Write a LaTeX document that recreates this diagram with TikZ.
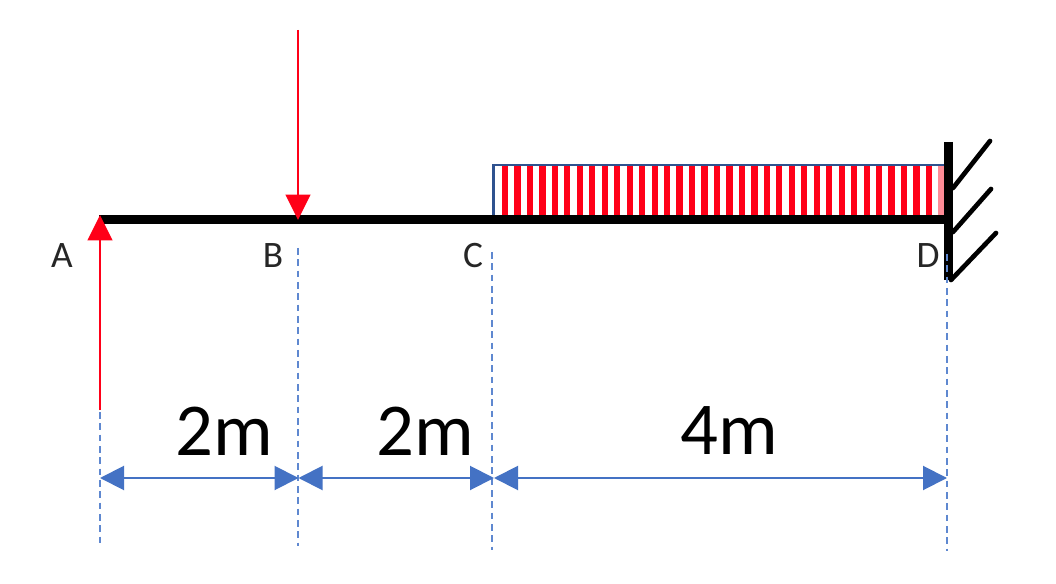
\documentclass[tikz,border=0pt]{standalone}
\usepackage{fontspec}
\setmainfont{Carlito}
\usetikzlibrary{arrows.meta}
\definecolor{dimblue}{HTML}{4472C4}
\definecolor{boxblue}{HTML}{2F528F}
\definecolor{loadred}{HTML}{FF0018}
\definecolor{guideblue}{HTML}{5F88D0}
\tikzset{
  beam/.style={line width=6.9pt,black},
  hatch/.style={line width=3.5pt,black,line cap=round},
  force/.style={line width=1.5pt,loadred,-{Triangle[length=19pt,width=18.5pt]}},
  dimline/.style={line width=1.5pt,dimblue,{Triangle[length=18pt,width=18pt]}-{Triangle[length=18pt,width=18pt]}},
  guide/.style={line width=1pt,guideblue,dash pattern=on 5pt off 3.5pt},
  ptlabel/.style={font=\fontsize{28}{30}\selectfont,text=black!85,inner sep=0pt},
  dimlabel/.style={font=\fontsize{56}{60}\selectfont,text=black,inner sep=0pt},
  stripe/.style={line width=4.7pt,loadred},
}
\begin{document}
\begin{tikzpicture}[x=0.75pt,y=-0.75pt]
\useasboundingbox (0,0) rectangle (1056,584);
\fill[white] (0,0) rectangle (1056,584);
% named points
\coordinate (Astart) at (100,410);
\coordinate (Bstart) at (298,30);
\coordinate (A1) at (100,412); \coordinate (A2) at (100,545);
\coordinate (B1) at (298,248); \coordinate (B2) at (298,546);
\coordinate (C1) at (492,252); \coordinate (C2) at (492,550);
\coordinate (D1) at (947,254); \coordinate (D2) at (947,551);
\coordinate (dA) at (100,478);
\coordinate (dB) at (298.5,478);
\coordinate (dC) at (494,478);
\coordinate (dD) at (947,478);
% distributed load
\foreach \k in {0,...,34} {
  \draw[stripe] ({505+12.47*\k},166) -- ({505+12.47*\k},216);
}
\fill[loadred!45] (938,166) rectangle (944,216);
\draw[boxblue,line width=1.8pt] (493.5,218) -- (493.5,165) -- (945,165);
% guides
\draw[guide] (A1) -- (A2);
\draw[guide] (B1) -- (B2);
\draw[guide] (C1) -- (C2);
% beam and wall
\draw[beam] (99,219.5) -- (948,219.5);
\draw[line width=7pt,black] (948.5,142) -- (948.5,280);
\draw[hatch] (953,188) -- (990,141);
\draw[hatch] (953,232) -- (991,189);
\draw[hatch] (951,280) -- (996,233);
\draw[guide] (D1) -- (D2);
% forces
\draw[force] (Astart) -- (100,215);
\draw[force] (Bstart) -- (298,220);
% dimensions
\draw[dimline] (dA) -- (dB);
\draw[dimline] (dB) -- (dC);
\draw[dimline] (dC) -- (dD);
% labels
\node[ptlabel] (la) at (62,256) {A};
\node[ptlabel] (lb) at (273,256) {B};
\node[ptlabel] (lc) at (473,256) {C};
\node[ptlabel] (ld) at (928,256) {D};
\node[dimlabel] (m1) at (224.5,431) {2m};
\node[dimlabel] (m2) at (425.5,431) {2m};
\node[dimlabel] (m3) at (729.5,431) {4m};
\end{tikzpicture}
\end{document}
